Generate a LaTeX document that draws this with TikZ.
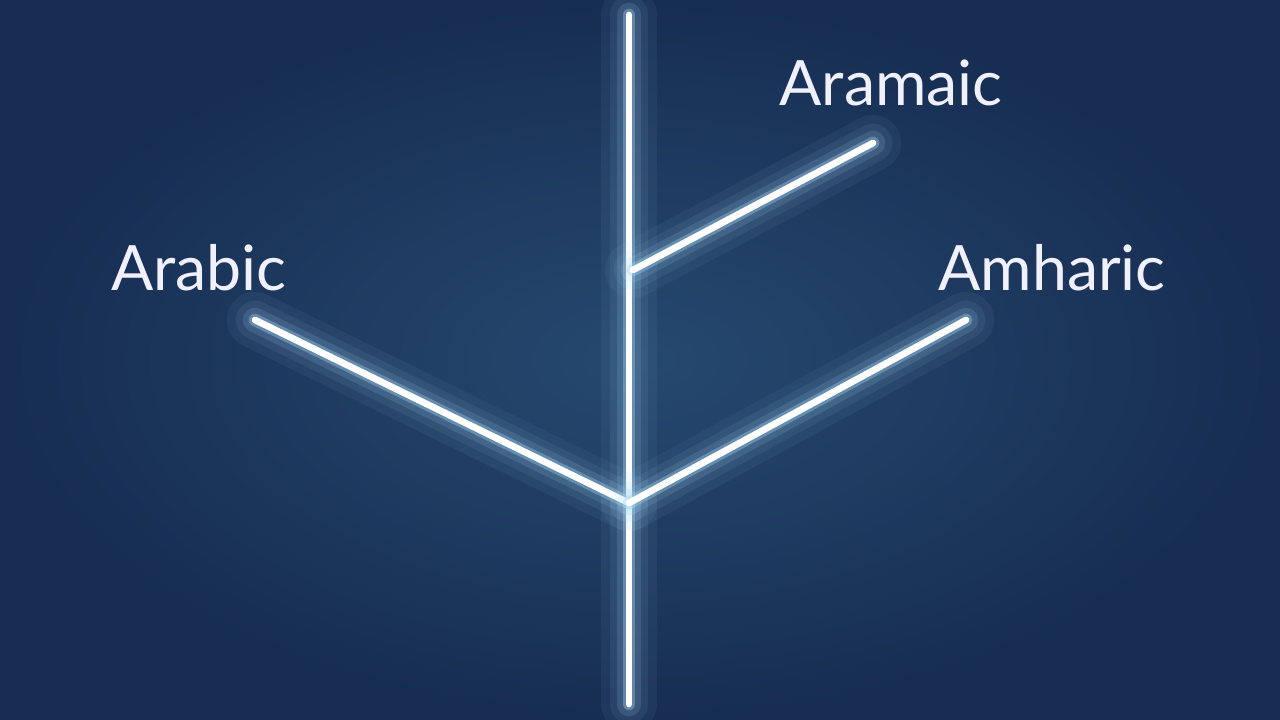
\documentclass[tikz,border=0pt]{standalone}
\usepackage{fontspec}
\setmainfont{Lato}
\definecolor{bgmid}{HTML}{26496F}
\definecolor{bgedge}{HTML}{172D52}
\definecolor{glowblue}{HTML}{A8D8F8}
\tikzset{
  branch/.style={draw=white, line width=1.9pt, line cap=round,
    preaction={draw=glowblue, opacity=0.06, line width=16pt, line cap=round},
    preaction={draw=glowblue, opacity=0.08, line width=11pt, line cap=round},
    preaction={draw=glowblue, opacity=0.14, line width=7pt, line cap=round},
    preaction={draw=glowblue, opacity=0.35, line width=3.6pt, line cap=round}},
  lang/.style={text=white!94!blue, font=\fontsize{17.8}{20}\selectfont, inner sep=0pt}
}
\begin{document}
\begin{tikzpicture}
    \fill[inner color=bgmid, outer color=bgedge] (0,0) rectangle (12.8,-7.2); % fondo
    \useasboundingbox (0,0) rectangle (12.8,-7.2);
    \coordinate (root) at (6.29,-7.04); % pie del tronco
    \coordinate (top) at (6.29,-0.15); % punta del tronco
    \coordinate (fork) at (6.29,-5.03); % bifurcación inferior
    \coordinate (upfork) at (6.33,-2.70); % rama superior
    \coordinate (arabicEnd) at (2.55,-3.20);
    \coordinate (amharicEnd) at (9.66,-3.20);
    \coordinate (aramaicEnd) at (8.73,-1.43);
    \draw[branch] (root) -- (top); % tronco
    \draw[branch] (fork) -- (arabicEnd);
    \draw[branch] (fork) -- (amharicEnd);
    \draw[branch] (upfork) -- (aramaicEnd);
    \node[lang] (arabic) at (1.99,-2.68) {Arabic};
    \node[lang] (amharic) at (10.52,-2.68) {Amharic};
    \node[lang] (aramaic) at (8.91,-0.83) {Aramaic};
\end{tikzpicture}
\end{document}
